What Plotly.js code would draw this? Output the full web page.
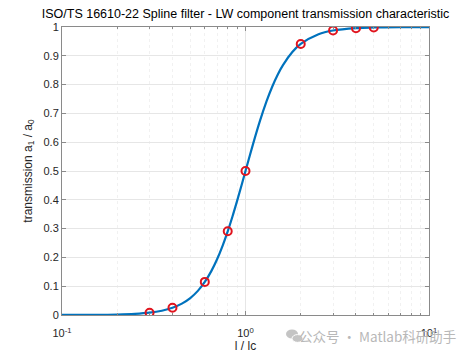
<!DOCTYPE html>
<html>
<head>
<meta charset="utf-8">
<script src="https://cdn.plot.ly/plotly-3.0.1.min.js"></script>
<style>html,body{margin:0;padding:0;background:#fff;}#chart{width:474px;height:355px;}</style>
</head>
<body>
<div id="chart"></div>
<script>
// Curve (l/lc vs transmission)
const curveX = [0.1, 0.15, 0.2, 0.25, 0.3, 0.35, 0.4, 0.45, 0.5, 0.55, 0.6, 0.65, 0.7, 0.75, 0.8, 0.85, 0.9, 0.95, 1.0, 1.1, 1.2, 1.3, 1.4, 1.5, 1.6, 1.8, 2.0, 2.5, 3, 4, 5, 7, 10];
const curveY = [0.0001, 0.0005, 0.0016, 0.0039, 0.0080, 0.0148, 0.0250, 0.0394, 0.0588, 0.0838, 0.1147, 0.1515, 0.1936, 0.2403, 0.2906, 0.3430, 0.3962, 0.4489, 0.5, 0.5942, 0.6747, 0.7407, 0.7935, 0.8351, 0.8676, 0.9130, 0.9412, 0.9750, 0.9878, 0.9961, 0.9984, 0.9996, 0.9999];
// Marked sample points
const markX = [0.3, 0.4, 0.6, 0.8, 1, 2, 3, 4, 5];
const markY = [0.008, 0.025, 0.115, 0.291, 0.5, 0.941, 0.988, 0.996, 0.998];
// Tick labels
const xTickVals = [0.1, 1, 10];
const xTickText = ['10<sup>-1</sup>', '10<sup>0</sup>', '10<sup>1</sup>'];
const xMinorVals = [0.2,0.3,0.4,0.5,0.6,0.7,0.8,0.9,2,3,4,5,6,7,8,9];
const yTickVals = [0,0.1,0.2,0.3,0.4,0.5,0.6,0.7,0.8,0.9,1];
const yTickText = ['0','0.1','0.2','0.3','0.4','0.5','0.6','0.7','0.8','0.9','1'];

const traces = [
  {x: curveX, y: curveY, mode: 'lines', line: {color: '#0072BD', width: 2.2, shape: 'spline'}, hoverinfo: 'skip'},
  {x: markX, y: markY, mode: 'markers', marker: {symbol: 'circle-open', size: 8, color: '#E0141E', line: {width: 2, color: '#E0141E'}}}
];

const axisCommon = {
  showline: true, mirror: 'ticks', linecolor: '#8a8a8a', linewidth: 1,
  ticks: 'inside', ticklen: 4, tickcolor: '#8a8a8a',
  gridcolor: '#e6e6e6', gridwidth: 1, zeroline: false,
  tickfont: {family: 'Liberation Sans, Arial, sans-serif', size: 11, color: '#262626'}
};

const layout = {
  width: 474, height: 355,
  margin: {l: 62, r: 45, t: 27, b: 40},
  paper_bgcolor: '#fff', plot_bgcolor: '#fff',
  showlegend: false,
  font: {family: 'Liberation Sans, Arial, sans-serif', color: '#262626'},
  title: {text: 'ISO/TS 16610-22 Spline filter - LW component transmission characteristic',
          font: {size: 12.5, color: '#000'}, x: 0.518, xanchor: 'center', y: 0.962, yanchor: 'middle'},
  xaxis: Object.assign({}, axisCommon, {
    type: 'log', range: [-1, 1], tickmode: 'array', tickvals: xTickVals, ticktext: xTickText,
    showgrid: true, ticklabelstandoff: 8,
    minor: {tickmode: 'array', tickvals: xMinorVals, ticks: 'inside', ticklen: 2, tickcolor: '#8a8a8a', showgrid: true, gridcolor: '#f1f1f1', griddash: 'dot'},
    title: {text: 'l / lc', font: {size: 12, color: '#262626'}, standoff: 0}
  }),
  yaxis: Object.assign({}, axisCommon, {
    range: [0, 1], tickmode: 'array', tickvals: yTickVals, ticktext: yTickText,
    showgrid: true,
    title: {text: 'transmission a<sub>1</sub> / a<sub>0</sub>', font: {size: 12, color: '#262626'}, standoff: 8}
  }),
  annotations: [
    {text: '公众号 · Matlab科研助手', xref: 'paper', yref: 'paper', x: 1.079, y: -0.073, xanchor: 'right', yanchor: 'middle',
     showarrow: false, font: {family: 'Noto Sans CJK SC, sans-serif', size: 13.5, color: '#b8b8b8'}}
  ],
  shapes: [
    {type: 'circle', xref: 'paper', yref: 'paper', x0: -0.610 + 1.0, x1: 0.4, y0: -0.082, y1: -0.05, fillcolor: '#c4c4c4', line: {width: 0}},
    {type: 'circle', xref: 'paper', yref: 'paper', x0: 0.393, x1: 0.415, y0: -0.095, y1: -0.068, fillcolor: '#c4c4c4', line: {color: '#fff', width: 1}}
  ]
};
// shift watermark icon to the left of the text
layout.shapes[0].x0 = (286 - 62) / 367; layout.shapes[0].x1 = (298 - 62) / 367;
layout.shapes[1].x0 = (292 - 62) / 367; layout.shapes[1].x1 = (303 - 62) / 367;

Plotly.newPlot('chart', traces, layout, {displayModeBar: false, staticPlot: true});
</script>
</body>
</html>
